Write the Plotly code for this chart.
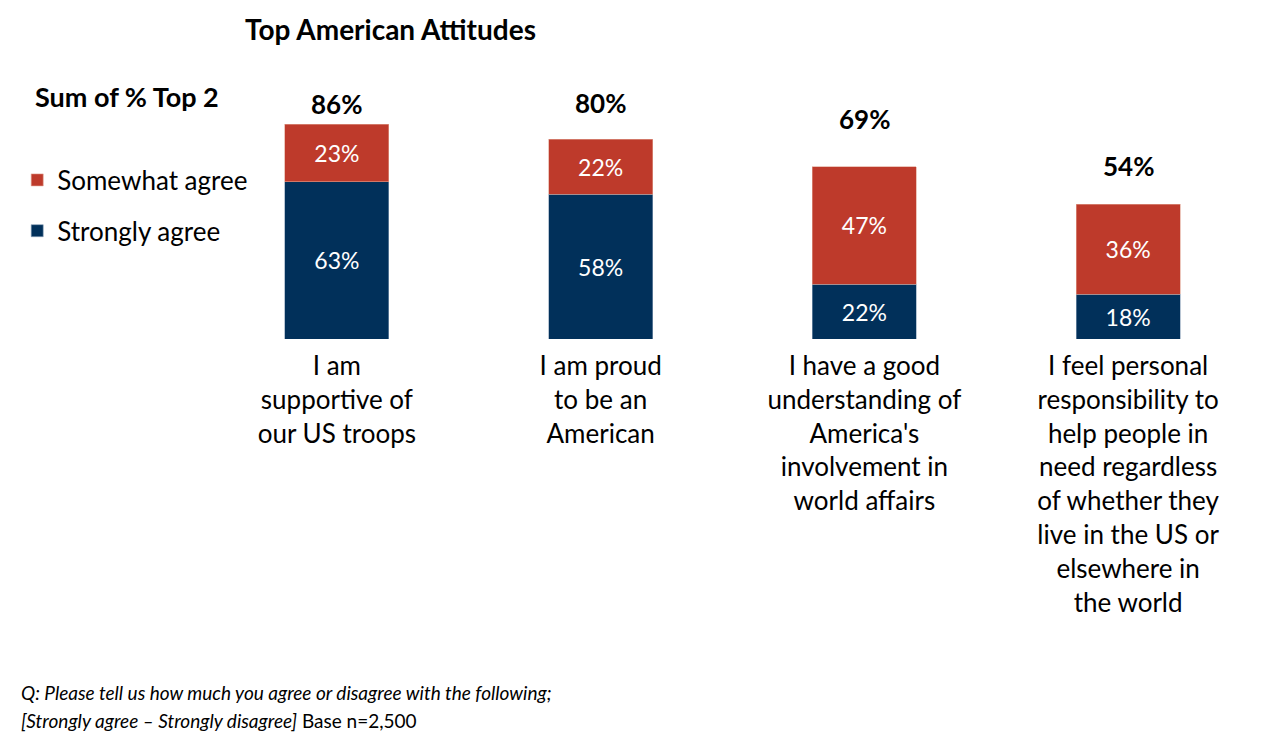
import plotly.graph_objects as go

categories = [
    "I am<br>supportive of<br>our US troops",
    "I am proud<br>to be an<br>American",
    "I have a good<br>understanding of<br>America's<br>involvement in<br>world affairs",
    "I feel personal<br>responsibility to<br>help people in<br>need regardless<br>of whether they<br>live in the US or<br>elsewhere in<br>the world",
]
strongly_agree = [63, 58, 22, 18]
somewhat_agree = [23, 22, 47, 36]
totals = [86, 80, 69, 54]

NAVY = "#01305A"
RED = "#BE3A2B"
FONT = "Lato, 'Open Sans', sans-serif"

x = list(range(len(categories)))

fig = go.Figure()
fig.add_trace(go.Bar(
    x=x, y=strongly_agree, name="Strongly agree", legendgroup="a", legendrank=2,
    marker=dict(color=NAVY, line=dict(color="#8aa0b8", width=0.6)),
    text=[f"{v}%" for v in strongly_agree], textposition="inside",
    insidetextanchor="middle", textangle=0,
    textfont=dict(color="white", size=23, family=FONT),
    width=0.394,
))
fig.add_trace(go.Bar(
    x=x, y=somewhat_agree, name="Somewhat agree", legendgroup="b", legendrank=1,
    marker=dict(color=RED, line=dict(color="#e0a090", width=0.6)),
    text=[f"{v}%" for v in somewhat_agree], textposition="inside",
    insidetextanchor="middle", textangle=0,
    textfont=dict(color="white", size=23, family=FONT),
    width=0.394,
))

yshifts = [20, 36, 48, 38]
for i, t in enumerate(totals):
    fig.add_annotation(x=x[i], y=t, text=f"<b>{t}%</b>", showarrow=False,
                       yshift=yshifts[i], font=dict(size=26, color="black", family=FONT))

fig.add_annotation(xref="paper", yref="paper", x=0.036, y=1.0, xanchor="left",
                   text="<b>Top American Attitudes</b>", yshift=79, showarrow=False,
                   font=dict(size=28, color="black", family=FONT))
fig.add_annotation(xref="paper", yref="paper", x=-0.163, y=1.0, xanchor="left",
                   text="<b>Sum of % Top 2</b>", yshift=11, showarrow=False,
                   font=dict(size=27, color="black", family=FONT))
fig.add_annotation(xref="paper", yref="paper", x=-0.176, y=0, xanchor="left", yanchor="middle",
                   text="<i>Q: Please tell us how much you agree or disagree with the following;</i>",
                   align="left", yshift=-353, showarrow=False,
                   font=dict(size=19, color="black", family=FONT))
fig.add_annotation(xref="paper", yref="paper", x=-0.176, y=0, xanchor="left", yanchor="middle",
                   text="<i>[Strongly agree – Strongly disagree]</i> Base n=2,500",
                   align="left", yshift=-381, showarrow=False,
                   font=dict(size=19, color="black", family=FONT))

fig.update_layout(
    barmode="stack",
    width=1280, height=753,
    margin=dict(l=205, r=20, t=89, b=414),
    paper_bgcolor="white", plot_bgcolor="white",
    font=dict(family=FONT, color="black"),
    showlegend=True,
    legend=dict(x=-0.178, y=0.73, xanchor="left", yanchor="top",
                traceorder="grouped", tracegroupgap=14,
                font=dict(size=26, family=FONT), bgcolor="rgba(0,0,0,0)"),
    xaxis=dict(tickmode="array", tickvals=x, ticktext=categories, range=[-0.5, 3.5],
               showline=False, showgrid=False, zeroline=False, ticks="",
               ticklabelstandoff=9,
               tickfont=dict(size=26, family=FONT), automargin=False),
    yaxis=dict(range=[0, 100], visible=False),
)

fig.write_html("out.html")
